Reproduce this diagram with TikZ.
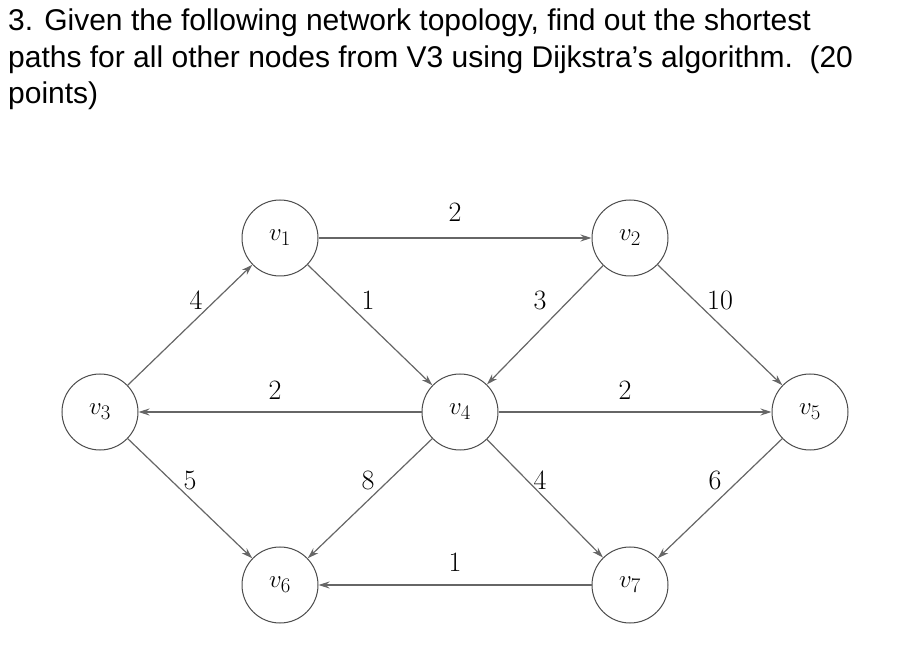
\documentclass[tikz,border=0pt]{standalone}
\usepackage{fontspec}
\setsansfont{Liberation Sans}
\usetikzlibrary{arrows.meta}
\begin{document}
\begin{tikzpicture}[x=1pt,y=-1pt,
  v/.style={circle,draw=black!70,line width=1pt,minimum size=76pt,inner sep=0pt,font=\fontsize{28}{28}\selectfont},
  e/.style={draw=black!60,line width=1.2pt,-{Stealth[length=11pt,width=7pt]}},
  w/.style={font=\fontsize{28}{28}\selectfont}]
\useasboundingbox (0,0) rectangle (914,652);
\node[anchor=north west,align=left,font=\sffamily\fontsize{30}{36.5}\selectfont,inner sep=0pt] (t) at (8,9)
 {3. Given the following network topology, find out the shortest\\paths for all other nodes from V3 using Dijkstra's algorithm.\ \ (20\\points)};
\node[v] (v1) at (280,238) {$v_1$};
\node[v] (v2) at (630,238) {$v_2$};
\node[v] (v3) at (100,412) {$v_3$};
\node[v] (v4) at (460,412) {$v_4$};
\node[v] (v5) at (810,412) {$v_5$};
\node[v] (v6) at (280,585) {$v_6$};
\node[v] (v7) at (630,585) {$v_7$};
\draw[e] (v1) -- (v2);
\draw[e] (v3) -- (v1);
\draw[e] (v1) -- (v4);
\draw[e] (v2) -- (v4);
\draw[e] (v2) -- (v5);
\draw[e] (v4) -- (v3);
\draw[e] (v4) -- (v5);
\draw[e] (v3) -- (v6);
\draw[e] (v4) -- (v6);
\draw[e] (v4) -- (v7);
\draw[e] (v5) -- (v7);
\draw[e] (v7) -- (v6);
\node[w] (a) at (455,212) {2};
\node[w] (b) at (196,300) {4};
\node[w] (c) at (368,300) {1};
\node[w] (d) at (540,300) {3};
\node[w] (f) at (720,300) {10};
\node[w] (g) at (275,390) {2};
\node[w] (h) at (625,390) {2};
\node[w] (i) at (190,480) {5};
\node[w] (j) at (368,480) {8};
\node[w] (k) at (540,480) {4};
\node[w] (l) at (715,480) {6};
\node[w] (m) at (455,562) {1};
\end{tikzpicture}
\end{document}
